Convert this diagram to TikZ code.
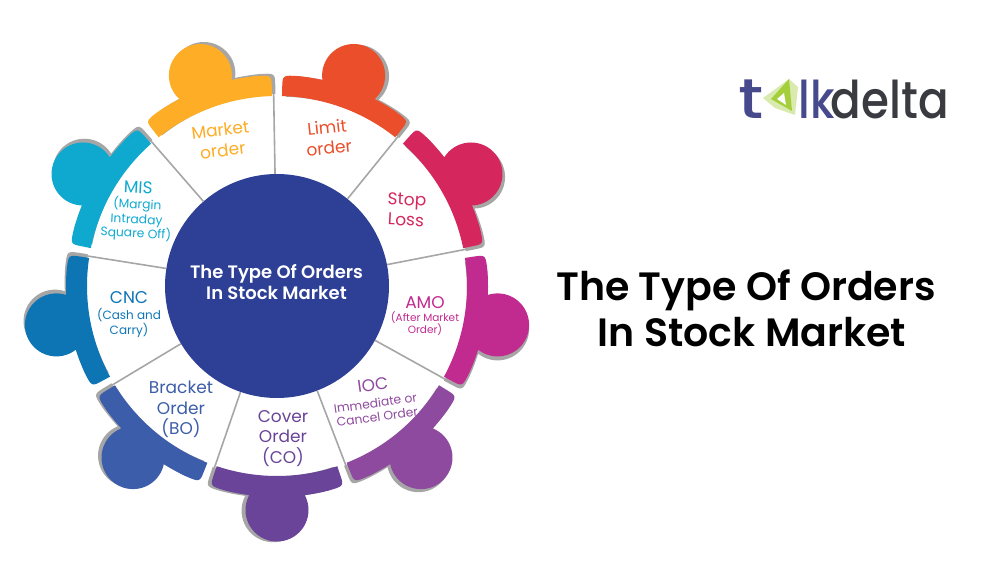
\documentclass[tikz,border=0pt]{standalone}
\usepackage{fontspec}
\setmainfont{Poppins}
\newfontfamily\mediumfont{Poppins Medium}
\newfontfamily\semifont{Poppins SemiBold}
\definecolor{marketcol}{HTML}{FDAD26}
\definecolor{limitcol}{HTML}{EA4E2A}
\definecolor{stopcol}{HTML}{D5275E}
\definecolor{amocol}{HTML}{C12A8F}
\definecolor{ioccol}{HTML}{8E4A9E}
\definecolor{covercol}{HTML}{6A4499}
\definecolor{bracketcol}{HTML}{3C5DA9}
\definecolor{cnccol}{HTML}{0E75B5}
\definecolor{miscol}{HTML}{0FA9D0}
\definecolor{hubcol}{HTML}{2E3F96}
\definecolor{edgecol}{HTML}{A6A6A6}
\definecolor{logoblue}{HTML}{464A8C}
\definecolor{logodark}{HTML}{3A3B40}
\definecolor{logogreen}{HTML}{A5CF3A}
\definecolor{logopale}{HTML}{D9EAAE}
\newcommand{\bigsize}{\fontsize{17}{20.5}\selectfont}
\newcommand{\subsize}{\fontsize{12.3}{15}\selectfont}
\newcommand{\tinysize}{\fontsize{10.5}{12}\selectfont}
\newcommand{\armpath}[1]{%
  (#1-18.5:190) -- (#1-18.5:199) .. controls (#1-18.5:211) .. (#1-14:211)
  arc[start angle=#1-14, end angle=#1+14, radius=211]
  .. controls (#1+18.5:211) .. (#1+18.5:199) -- (#1+18.5:190)
  arc[start angle=#1+18.5, end angle=#1-18.5, radius=190] -- cycle
  (#1:224) circle[radius=31.5]}
\begin{document}
\begin{tikzpicture}
[x=1pt, y=1pt, orderlabel/.style={align=center, inner sep=0, font=\bigsize},
 logotext/.style={inner sep=0, anchor=base, font=\mediumfont\fontsize{52}{52}\selectfont},
 separator/.style={draw=edgecol, line width=1.6pt}]
\useasboundingbox (0, 0) rectangle (1000, 582);
\node (hub) [circle, fill=hubcol, inner sep=0, minimum size=224pt] at (277, 296) {};
% rims and figures
\foreach \a in {91, 51, 11, -29, -69, -109, -149, -189, -229} {
  \coordinate (rim\a) at ([shift={(\a:204)}]hub.center);
  \draw [separator] (hub.\a) -- (rim\a);
}
\begin{scope}[shift={(277, 296)}]
\foreach \a in {110, 70, 30, -10, -50, -90, -130, -170, -210}
  \fill [edgecol, shift={(\a-80:4)}] \armpath{\a};
\foreach \a/\c in {110/marketcol, 70/limitcol, 30/stopcol, -10/amocol, -50/ioccol, -90/covercol, -130/bracketcol, -170/cnccol, -210/miscol}
  \fill [\c] \armpath{\a};
\end{scope}
% hub text
\node (hublabel) [align=center, text=white, font=\semifont\fontsize{18}{21}\selectfont] at (276.5, 300) {The Type Of Orders\\In Stock Market};
% order labels
\node (market) [orderlabel, text=marketcol, rotate=7] at (221.5, 442) {Market\\order};
\node (limit) [orderlabel, text=limitcol, rotate=6] at (328, 444.5) {Limit\\order};
\node (stop) [orderlabel, text=stopcol, rotate=-3] at (406.5, 372.5) {Stop\\Loss};
\node (amo) [orderlabel, text=amocol] at (425, 266) {AMO\\[-7pt]{\tinysize (After Market}\\[-8.5pt]{\tinysize Order)}};
\node (ioc) [orderlabel, text=ioccol, rotate=8] at (375, 182) {IOC\\[-3.5pt]{\subsize Immediate or}\\[-6.5pt]{\subsize Cancel Order}};
\node (cover) [orderlabel, text=covercol] at (283, 143.5) {Cover\\Order\\(CO)};
\node (bracket) [orderlabel, text=bracketcol] at (181, 172.5) {Bracket\\Order\\(BO)};
\node (cnc) [orderlabel, text=cnccol] at (129, 267.5) {CNC\\[-4.5pt]{\fontsize{12}{15}\selectfont (Cash and}\\[-5.5pt]{\fontsize{12}{15}\selectfont Carry)}};
\node (mis) [orderlabel, text=miscol, rotate=-3] at (137, 371) {MIS\\[-5pt]{\subsize (Margin}\\[-5.5pt]{\subsize Intraday}\\[-6.5pt]{\subsize Square Off)}};
% title
\node (title) [align=center, font=\semifont\fontsize{39.5}{46}\selectfont] at (752, 274) {The Type Of Orders\hspace*{12pt}\\In Stock Market};
% logo
\node (logot) [logotext, text=logoblue] at (751, 463) {\scalebox{1.3}[1.08]{t}};
\fill [logopale] (763, 484) -- (789, 503) -- (798, 495) -- (795, 467) -- (775, 474) -- cycle;
\fill [logogreen] (789, 503) -- (771, 483) -- (792, 471) -- cycle;
\fill [white] (784, 489) -- (777, 483) -- (786, 477) -- cycle;
\node (logolk) [logotext, text=logoblue] at (817, 463) {\scalebox{.85}[1]{lk}};
\node (logodelta) [logotext, text=logodark] at (890, 463) {\scalebox{.87}[1]{delta}};
\end{tikzpicture}
\end{document}
